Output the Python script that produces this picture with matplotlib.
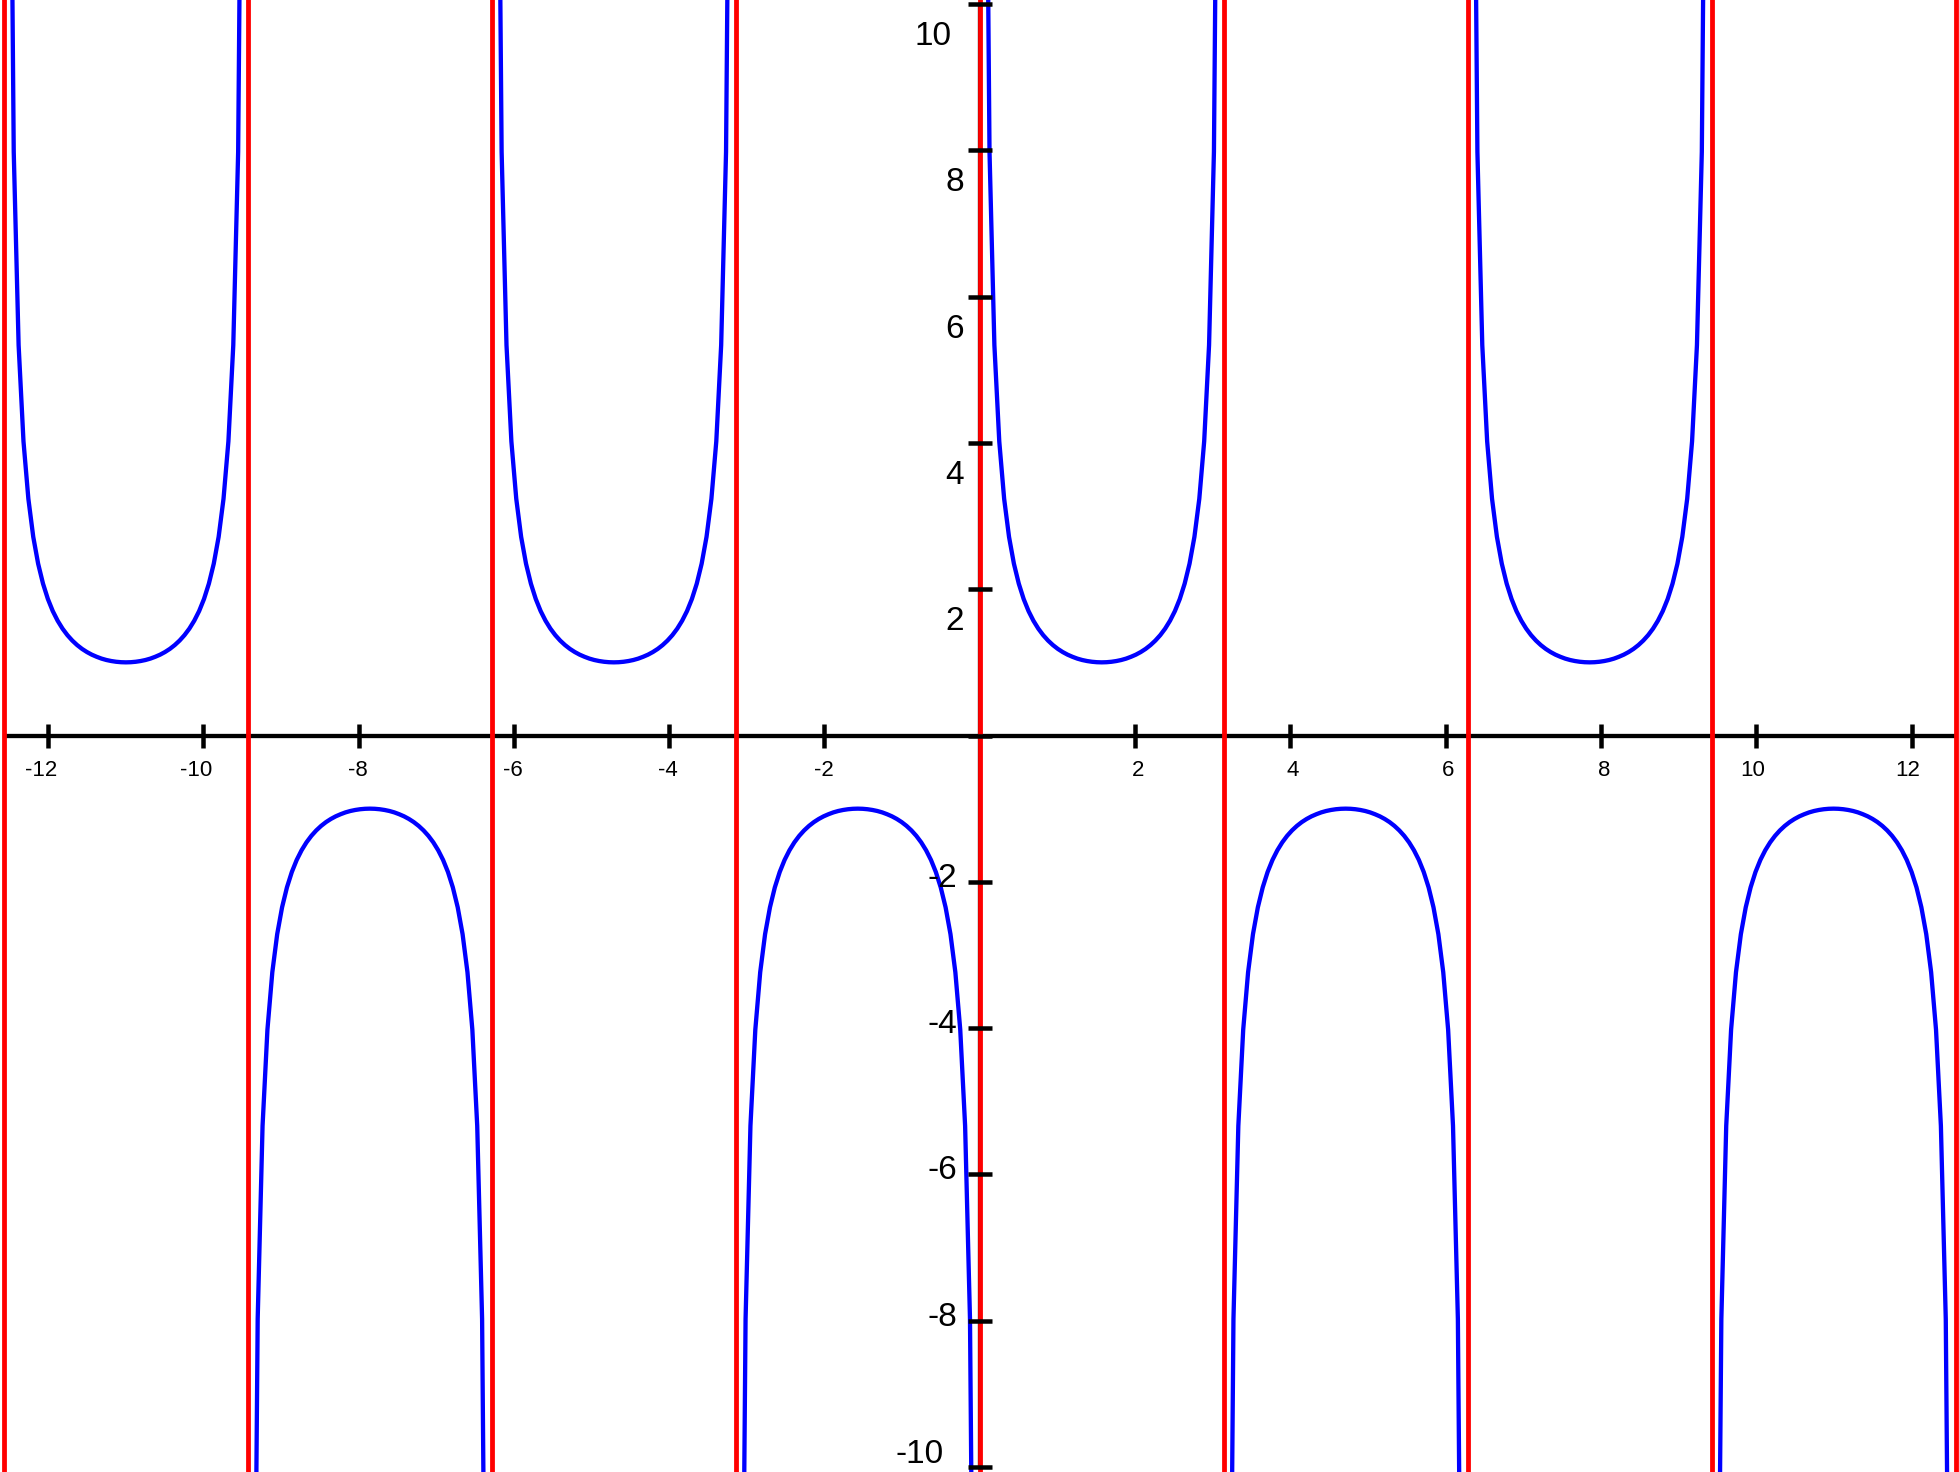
import matplotlib

matplotlib.use("Agg")
import matplotlib.pyplot as plt
import numpy as np

PI = np.pi

# One branch of the curve on (0, pi), sample points
branch_x = [
    0.0628, 0.1257, 0.1885, 0.2513, 0.3142, 0.3770, 0.4398, 0.5027, 0.5655, 0.6283,
    0.6912, 0.7540, 0.8168, 0.8796, 0.9425, 1.0053, 1.0681, 1.1310, 1.1938, 1.2566,
    1.3195, 1.3823, 1.4451, 1.5080, 1.5708, 1.6336, 1.6965, 1.7593, 1.8221, 1.8850,
    1.9478, 2.0106, 2.0735, 2.1363, 2.1991, 2.2619, 2.3248, 2.3876, 2.4504, 2.5133,
    2.5761, 2.6389, 2.7018, 2.7646, 2.8274, 2.8903, 2.9531, 3.0159, 3.0788,
]
branch_y = [
    15.926, 7.979, 5.337, 4.021, 3.236, 2.716, 2.349, 2.076, 1.866, 1.701,
    1.569, 1.461, 1.372, 1.298, 1.236, 1.184, 1.141, 1.105, 1.076, 1.051,
    1.032, 1.018, 1.008, 1.002, 1.000, 1.002, 1.008, 1.018, 1.032, 1.051,
    1.076, 1.105, 1.141, 1.184, 1.236, 1.298, 1.372, 1.461, 1.569, 1.701,
    1.866, 2.076, 2.349, 2.716, 3.236, 4.021, 5.337, 7.979, 15.926,
]

# branches start at k*pi, alternating above / below the axis
branch_index = [-4, -3, -2, -1, 0, 1, 2, 3]
branch_sign = [1, -1, 1, -1, 1, -1, 1, -1]
asymptote_index = [-4, -3, -2, -1, 0, 1, 2, 3, 4]

x_ticks = [-12, -10, -8, -6, -4, -2, 2, 4, 6, 8, 10, 12]
y_ticks = [-10, -8, -6, -4, -2, 0, 2, 4, 6, 8, 10]
y_labels = [-10, -8, -6, -4, -2, 2, 4, 6, 8, 10]

plt.rcParams["font.family"] = ["Liberation Sans", "DejaVu Sans"]

W, H, DPI = 1959, 1472, 100
fig = plt.figure(figsize=(W / DPI, H / DPI), dpi=DPI)
ax = fig.add_axes([0, 0, 1, 1])
ax.axis("off")

# pixel geometry of the reference
x0_px, x_unit = 979.75, 77.65
y0_px, y_unit = 735.5, 73.15
ax.set_xlim(-x0_px / x_unit, (W - x0_px) / x_unit)
ax.set_ylim(-(H - y0_px) / y_unit, y0_px / y_unit)

px = 0.72  # points per pixel at 100 dpi

# axes lines
ax.plot([-4 * PI, 4 * PI], [0, 0], color="black", lw=4.3 * px, zorder=1,
        solid_capstyle="butt")
ax.plot([0, 0], [-10, 10], color="black", lw=4.3 * px, zorder=1,
        solid_capstyle="butt")

# x ticks
ax.plot(x_ticks, [0] * len(x_ticks), ls="none", marker="|", color="black",
        markersize=24 * px, markeredgewidth=4.5 * px, zorder=1, clip_on=False)

# curve
for k, s in zip(branch_index, branch_sign):
    xs = [k * PI + bx for bx in branch_x]
    ys = [s * by for by in branch_y]
    ax.plot(xs, ys, color="#0000ff", lw=4.3 * px, zorder=2,
            solid_joinstyle="miter")

# asymptotes
for k in asymptote_index:
    ax.axvline(k * PI, color="#ff0000", lw=4.8 * px, zorder=3)

# y ticks
ax.plot([0] * len(y_ticks), y_ticks, ls="none", marker="_", color="black",
        markersize=24 * px, markeredgewidth=4.5 * px, zorder=4, clip_on=False)

# x tick labels: right edge a few pixels right of the tick
for t in x_ticks:
    ax.annotate(str(t), xy=(t, 0), xytext=(9, -40), textcoords="offset pixels",
                ha="right", va="baseline", fontsize=16)

# y tick labels
for t in y_labels:
    s = str(t)
    if t > 0:
        dx = -16 if len(s) == 1 else -28
        dy = -41
    else:
        dx = -22.5 if len(s) == 2 else -36.5
        dy = -5 if len(s) == 2 else 4
    ax.annotate(s, xy=(0, t), xytext=(dx, dy), textcoords="offset pixels",
                ha="right", va="baseline", fontsize=24, annotation_clip=False)

fig.savefig("out.png", dpi=DPI, facecolor="white")
